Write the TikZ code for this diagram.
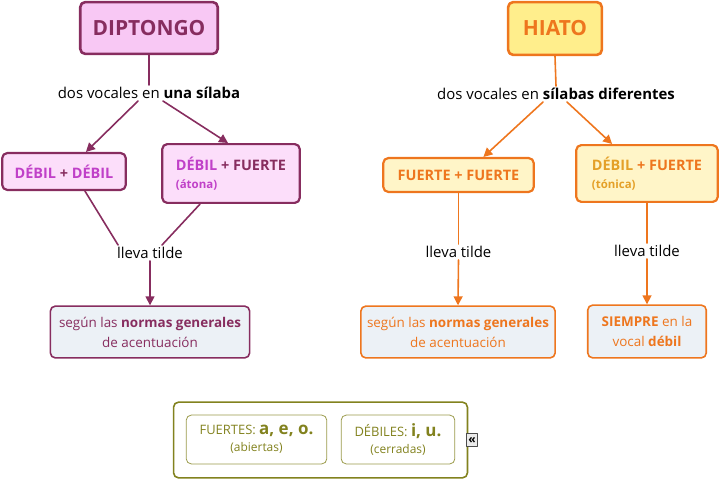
\documentclass[tikz,border=0pt]{standalone}
\usepackage{fontspec}
\setmainfont{Open Sans}
\usetikzlibrary{arrows.meta, positioning, calc}
\definecolor{dipline}{RGB}{135,45,95}
\definecolor{diptitle}{RGB}{248,200,244}
\definecolor{dipfill}{RGB}{252,222,250}
\definecolor{dipmag}{RGB}{192,64,200}
\definecolor{hialine}{RGB}{238,118,30}
\definecolor{hiatitle}{RGB}{255,238,140}
\definecolor{hiafill}{RGB}{255,245,200}
\definecolor{hiayel}{RGB}{228,160,40}
\definecolor{notefill}{RGB}{236,241,246}
\definecolor{vowline}{RGB}{130,130,30}

\begin{document}
\begin{tikzpicture}[x=0.03528cm, y=-0.03528cm, line cap=round, line join=round,
    titlebox/.style={draw, rounded corners=5pt, line width=2.6pt, align=center,
        font=\fontsize{21}{24}\selectfont\bfseries},
    kindbox/.style={draw, rounded corners=5pt, line width=2.2pt, inner sep=4pt,
        font=\fontsize{14.5}{17}\selectfont\bfseries},
    notebox/.style={draw, rounded corners=5pt, line width=1.6pt, fill=notefill, align=center,
        font=\fontsize{13.5}{20}\selectfont},
    linktext/.style={inner sep=2pt, font=\fontsize{15}{18}\selectfont},
    link/.style={line width=1.6pt},
    linkarrow/.style={line width=1.6pt, -{Triangle[length=9pt, width=9pt]}}]
    \useasboundingbox (0,0) rectangle (720,480);

    % -- Diptongo --
    \node[titlebox, draw=dipline, fill=diptitle, text=dipline,
        minimum width=138, minimum height=52] (dip) at (149,28) {DIPTONGO};
    \node[linktext] (dtext) at (149,93) {dos vocales en \textbf{una sílaba}};
    \node[kindbox, draw=dipline, fill=dipfill, text=dipline,
        minimum width=124, minimum height=37] (dd) at (64,171.5)
        {\textcolor{dipmag}{DÉBIL} + \textcolor{dipmag}{DÉBIL}};
    \node[kindbox, draw=dipline, fill=dipfill, text=dipline, align=left,
        minimum width=138, minimum height=59] (df) at (231,173.5)
        {\textcolor{dipmag}{DÉBIL} + FUERTE\\[1pt]
         {\fontsize{11.5}{13}\selectfont\textcolor{dipmag}{(átona)}}};
    \node[linktext] (dtilde) at (150,253) {lleva tilde};
    \node[notebox, draw=dipline, text=dipline,
        minimum width=200, minimum height=52] (dnorm) at (150,332)
        {según las \textbf{normas generales}\\de acentuación};

    \draw[link, dipline] (dip.south) -- (dtext.north);
    \draw[linkarrow, dipline] ([xshift=-11]dtext.south) -- ([xshift=22]dd.north);
    \draw[linkarrow, dipline] ([xshift=14]dtext.south) -- ([xshift=-3]df.north);
    \draw[link, dipline] ([xshift=21]dd.south) -- ([xshift=-32]dtilde.north);
    \draw[link, dipline] ([xshift=-31]df.south) -- ([xshift=12]dtilde.north);
    \draw[linkarrow, dipline] (dtilde.south) -- (dnorm.north);

    % -- Hiato --
    \node[titlebox, draw=hialine, fill=hiatitle, text=hialine,
        minimum width=94, minimum height=53] (hia) at (555,28.5) {HIATO};
    \node[linktext] (htext) at (556,94) {dos vocales en \textbf{sílabas diferentes}};
    \node[kindbox, draw=hialine, fill=hiafill, text=hialine,
        minimum width=151, minimum height=34] (hff) at (458.5,175) {FUERTE + FUERTE};
    \node[kindbox, draw=hialine, fill=hiafill, text=hialine, align=left,
        minimum width=142, minimum height=57] (hdf) at (647,173.5)
        {\textcolor{hiayel}{DÉBIL} + FUERTE\\[1pt]
         {\fontsize{11.5}{13}\selectfont\textcolor{hiayel}{(tónica)}}};
    \node[linktext] (htilde1) at (458.5,252) {lleva tilde};
    \node[linktext] (htilde2) at (647,251) {lleva tilde};
    \node[notebox, draw=hialine, text=hialine,
        minimum width=195, minimum height=52] (hnorm) at (458,332)
        {según las \textbf{normas generales}\\de acentuación};
    \node[notebox, draw=hialine, text=hialine,
        minimum width=119, minimum height=53] (hsiem) at (647,331.5)
        {\textbf{SIEMPRE} en la\\vocal \textbf{débil}};

    \draw[link, hialine] (hia.south) -- (htext.north);
    \draw[linkarrow, hialine] ([xshift=-13]htext.south) -- ([xshift=25]hff.north);
    \draw[linkarrow, hialine] ([xshift=11]htext.south) -- ([xshift=-35]hdf.north);
    \draw[link, hialine] (hff.south) -- (htilde1.north);
    \draw[linkarrow, hialine] (htilde1.south) -- (hnorm.north);
    \draw[link, hialine] (hdf.south) -- (htilde2.north);
    \draw[linkarrow, hialine] (htilde2.south) -- (hsiem.north);

    % -- Vocales --
    \node[draw=vowline, line width=1.6pt, rounded corners=5pt, fill=white,
        minimum width=295, minimum height=76] (vow) at (320.5,440) {};
    \node[draw=vowline!80, line width=0.8pt, rounded corners=5pt, text=vowline, align=center,
        minimum width=141, minimum height=49, inner sep=2pt, font=\fontsize{13}{17}\selectfont] (vfuer) at (256.5,439.5)
        {FUERTES: {\fontsize{17}{17}\selectfont\textbf{a, e, o.}}\\{\fontsize{12}{14}\selectfont(abiertas)}};
    \node[draw=vowline!80, line width=0.8pt, rounded corners=5pt, text=vowline, align=center,
        minimum width=114, minimum height=49, inner sep=2pt, font=\fontsize{13}{17}\selectfont] (vdeb) at (398,439.5)
        {DÉBILES: {\fontsize{17}{17}\selectfont\textbf{i, u.}}\\{\fontsize{12}{14}\selectfont(cerradas)}};
    \node[draw=black!70, fill=black!8, line width=0.6pt, inner sep=0.5pt,
        minimum width=11, minimum height=13, font=\fontsize{12}{12}\selectfont\bfseries] (vicon) at (472,440) {«};
\end{tikzpicture}
\end{document}
